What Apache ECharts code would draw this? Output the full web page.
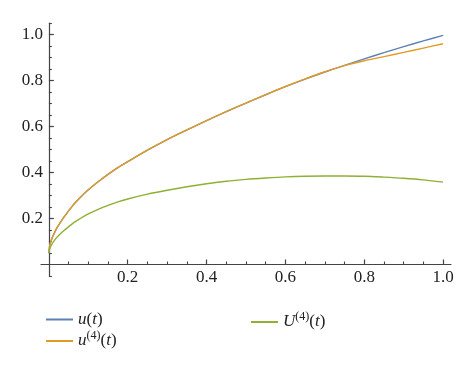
<!DOCTYPE html>
<html>
<head>
<meta charset="utf-8">
<script src="https://cdn.jsdelivr.net/npm/echarts@6/dist/echarts.min.js"></script>
<style>html,body{margin:0;padding:0;background:#fff}#c{width:474px;height:372px}</style>
</head>
<body>
<div id="c"></div>
<script>
// t values (shared)
var tVals   = [0, 0.0025, 0.005, 0.01, 0.02, 0.03, 0.04, 0.06, 0.08, 0.10, 0.125, 0.15, 0.175, 0.20, 0.25, 0.30, 0.35, 0.40, 0.45, 0.50, 0.55, 0.60, 0.65, 0.70, 0.75, 0.80, 0.85, 0.90, 0.95, 1.00];
// u(t)
var uVals   = [0.05, 0.085, 0.100, 0.123, 0.158, 0.185, 0.210, 0.255, 0.292, 0.325, 0.360, 0.392, 0.421, 0.447, 0.497, 0.543, 0.585, 0.626, 0.665, 0.702, 0.738, 0.773, 0.806, 0.837, 0.866, 0.894, 0.921, 0.947, 0.972, 0.996];
// u^(4)(t)
var u4Vals  = [0.05, 0.085, 0.100, 0.123, 0.158, 0.185, 0.210, 0.255, 0.292, 0.325, 0.360, 0.392, 0.421, 0.447, 0.497, 0.543, 0.585, 0.626, 0.665, 0.702, 0.739, 0.774, 0.807, 0.838, 0.865, 0.886, 0.904, 0.922, 0.941, 0.960];
// U^(4)(t)
var U4Vals  = [0.05, 0.070, 0.080, 0.095, 0.118, 0.135, 0.150, 0.178, 0.200, 0.220, 0.240, 0.257, 0.272, 0.285, 0.306, 0.323, 0.338, 0.351, 0.362, 0.370, 0.376, 0.381, 0.384, 0.385, 0.385, 0.384, 0.380, 0.375, 0.368, 0.358];

var xMajor = [0.2, 0.4, 0.6, 0.8, 1.0];
var xMinor = [0.05, 0.1, 0.15, 0.25, 0.3, 0.35, 0.45, 0.5, 0.55, 0.65, 0.7, 0.75, 0.85, 0.9, 0.95];
var yMajor = [0.2, 0.4, 0.6, 0.8, 1.0];
var yMinor = [-0.05, 0.05, 0.1, 0.15, 0.25, 0.3, 0.35, 0.45, 0.5, 0.55, 0.65, 0.7, 0.75, 0.85, 0.9, 0.95, 1.05];

function pairs(ys){ return tVals.map(function(t,i){ return [t, ys[i]]; }); }

var axisColor = '#444';
var serif = '"Liberation Serif", "DejaVu Serif", serif';

var rich = {
  i: { fontFamily: serif, fontStyle: 'italic', fontSize: 17, color: '#222' },
  n: { fontFamily: serif, fontSize: 17, color: '#222' },
  s: { fontFamily: serif, fontSize: 12, color: '#222', padding: [0, 0, 10, 0] }
};
var names = {
  'u': '{i|u}{n|(}{i|t}{n|)}',
  'u4': '{i|u}{s|(4)}{n|(}{i|t}{n|)}',
  'U4': '{i|U}{s|(4)}{n|(}{i|t}{n|)}'
};
function fmt(n){ return names[n]; }
function lab(v){ return v.toFixed(1); }

var chart = echarts.init(document.getElementById('c'), null, { renderer: 'canvas' });
chart.setOption({
  animation: false,
  backgroundColor: '#fff',
  grid: { left: 41, right: 23, top: 23, bottom: 96, containLabel: false },
  legend: [
    { data: ['u', 'u4'], orient: 'vertical', left: 41, top: 306, itemWidth: 27, itemHeight: 2, icon: 'rect', itemGap: 2,
      formatter: fmt, textStyle: { rich: rich } },
    { data: ['U4'], orient: 'vertical', left: 246, top: 306, itemWidth: 27, itemHeight: 2, icon: 'rect',
      formatter: fmt, textStyle: { rich: rich } }
  ],
  xAxis: [
    { type: 'value', min: -0.02, max: 1.02, position: 'bottom',
      axisLine: { show: true, onZero: true, lineStyle: { color: axisColor, width: 1.2 } },
      axisTick: { show: true, inside: true, length: 5, customValues: xMajor, lineStyle: { color: axisColor, width: 1.2 } },
      axisLabel: { show: true, customValues: xMajor, margin: -7, formatter: lab, color: '#222', fontFamily: serif, fontSize: 17 },
      splitLine: { show: false } },
    { type: 'value', min: -0.02, max: 1.02, position: 'bottom',
      axisLine: { show: true, onZero: true, lineStyle: { color: 'rgba(0,0,0,0)', width: 1 } },
      axisTick: { show: true, inside: true, length: 3, customValues: xMinor, lineStyle: { color: axisColor, width: 1.1 } },
      axisLabel: { show: false },
      splitLine: { show: false } }
  ],
  yAxis: [
    { type: 'value', min: -0.05, max: 1.05, position: 'left',
      axisLine: { show: true, onZero: true, lineStyle: { color: axisColor, width: 1.2 } },
      axisTick: { show: true, inside: true, length: 5, customValues: yMajor, lineStyle: { color: axisColor, width: 1.2 } },
      axisLabel: { show: true, customValues: yMajor, margin: -2, formatter: lab, color: '#222', fontFamily: serif, fontSize: 17 },
      splitLine: { show: false } },
    { type: 'value', min: -0.05, max: 1.05, position: 'left',
      axisLine: { show: true, onZero: true, lineStyle: { color: 'rgba(0,0,0,0)', width: 1 } },
      axisTick: { show: true, inside: true, length: 3, customValues: yMinor, lineStyle: { color: axisColor, width: 1.1 } },
      axisLabel: { show: false },
      splitLine: { show: false } }
  ],
  series: [
    { name: 'u', type: 'line', data: pairs(uVals), xAxisIndex: 0, yAxisIndex: 0, symbol: 'none', smooth: 0.3,
      color: '#5E81B5', lineStyle: { width: 1.4, color: '#5E81B5' } },
    { name: 'u4', type: 'line', data: pairs(u4Vals), xAxisIndex: 0, yAxisIndex: 0, symbol: 'none', smooth: 0.3,
      color: '#E19C24', lineStyle: { width: 1.4, color: '#E19C24' } },
    { name: 'U4', type: 'line', data: pairs(U4Vals), xAxisIndex: 0, yAxisIndex: 0, symbol: 'none', smooth: 0.3,
      color: '#8FB032', lineStyle: { width: 1.4, color: '#8FB032' } }
  ]
});
</script>
</body>
</html>
